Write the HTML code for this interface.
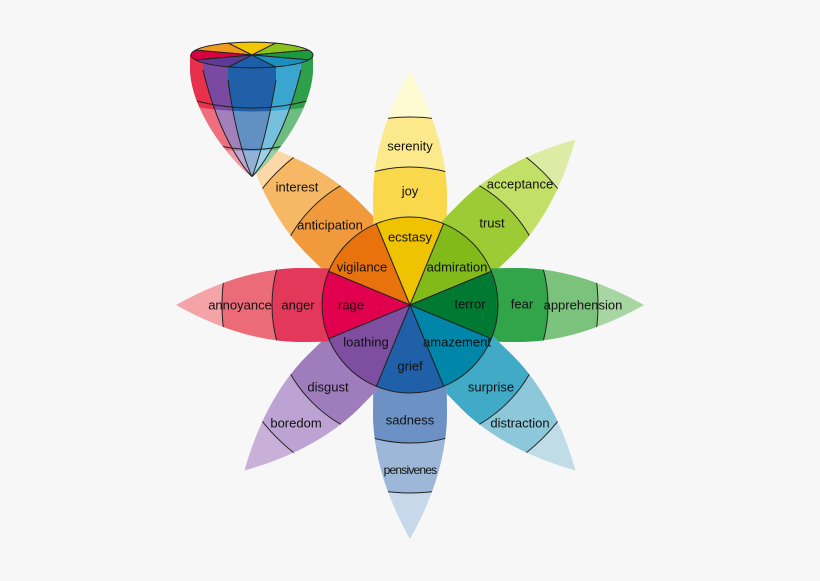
<!DOCTYPE html>
<html><head><meta charset="utf-8"><style>
html,body{margin:0;padding:0;background:#f7f7f7;width:820px;height:581px;overflow:hidden}
svg{display:block}
text{font-family:"Liberation Sans",sans-serif;font-size:13px;fill:#111;text-anchor:middle;dominant-baseline:central}
</style></head><body>
<svg width="820" height="581" viewBox="0 0 820 581" xmlns="http://www.w3.org/2000/svg">
<defs>
<clipPath id="pc" clipPathUnits="userSpaceOnUse"><path d="M40,-36 L110,-37 Q170,-36 234,0 Q170,36 110,37 L40,36 Z"/></clipPath>
<clipPath id="cone"><path d="M190,55 L313,55 L313,68 C313,110 274,160 252,177 C230,160 190,110 190,68 Z"/></clipPath>
</defs>
<rect width="820" height="581" fill="#f7f7f7"/>

<g transform="translate(410,305)">
 <g transform="rotate(-135)"><g clip-path="url(#pc)"><rect x="0" y="-50" width="260" height="100" fill="#fbd8a6"/><circle r="188" fill="#f7b865"/><circle r="138" fill="#f19a3c"/><circle r="138" fill="none" stroke="#222"/><circle r="188" fill="none" stroke="#222"/></g></g>
 <g transform="rotate(-90)"><g clip-path="url(#pc)"><rect x="0" y="-50" width="260" height="100" fill="#fefbd2"/><circle r="188" fill="#fbe98c"/><circle r="138" fill="#f9d84c"/><circle r="138" fill="none" stroke="#222"/><circle r="188" fill="none" stroke="#222"/></g></g>
 <g transform="rotate(-45)"><g clip-path="url(#pc)"><rect x="0" y="-50" width="260" height="100" fill="#dcecA4"/><circle r="188" fill="#c3e066"/><circle r="138" fill="#9dcb36"/><circle r="138" fill="none" stroke="#222"/><circle r="188" fill="none" stroke="#222"/></g></g>
 <g transform="rotate(0)"><g clip-path="url(#pc)"><rect x="0" y="-50" width="260" height="100" fill="#a8d6a2"/><circle r="188" fill="#7bc27c"/><circle r="138" fill="#32a54a"/><circle r="138" fill="none" stroke="#222"/><circle r="188" fill="none" stroke="#222"/></g></g>
 <g transform="rotate(45)"><g clip-path="url(#pc)"><rect x="0" y="-50" width="260" height="100" fill="#bfdce7"/><circle r="188" fill="#8cc7da"/><circle r="138" fill="#41aac6"/><circle r="138" fill="none" stroke="#222"/><circle r="188" fill="none" stroke="#222"/></g></g>
 <g transform="rotate(90)"><g clip-path="url(#pc)"><rect x="0" y="-50" width="260" height="100" fill="#c6d8ea"/><circle r="188" fill="#9db7d9"/><circle r="138" fill="#6c92c5"/><circle r="138" fill="none" stroke="#222"/><circle r="188" fill="none" stroke="#222"/></g></g>
 <g transform="rotate(135)"><g clip-path="url(#pc)"><rect x="0" y="-50" width="260" height="100" fill="#c9b0d9"/><circle r="188" fill="#bca3d3"/><circle r="138" fill="#9f7dbd"/><circle r="138" fill="none" stroke="#222"/><circle r="188" fill="none" stroke="#222"/></g></g>
 <g transform="rotate(180)"><g clip-path="url(#pc)"><rect x="0" y="-50" width="260" height="100" fill="#f4a4a7"/><circle r="188" fill="#ec6b78"/><circle r="138" fill="#e3385a"/><circle r="138" fill="none" stroke="#222"/><circle r="188" fill="none" stroke="#222"/></g></g>

 <g stroke="#222" stroke-width="1">
  <path transform="rotate(-135)" d="M0,0 L81.3,-33.7 A88,88 0 0 1 81.3,33.7 Z" fill="#e8730c"/>
  <path transform="rotate(-90)" d="M0,0 L81.3,-33.7 A88,88 0 0 1 81.3,33.7 Z" fill="#f0c300"/>
  <path transform="rotate(-45)" d="M0,0 L81.3,-33.7 A88,88 0 0 1 81.3,33.7 Z" fill="#82ba1a"/>
  <path transform="rotate(0)" d="M0,0 L81.3,-33.7 A88,88 0 0 1 81.3,33.7 Z" fill="#007a33"/>
  <path transform="rotate(45)" d="M0,0 L81.3,-33.7 A88,88 0 0 1 81.3,33.7 Z" fill="#0086a9"/>
  <path transform="rotate(90)" d="M0,0 L81.3,-33.7 A88,88 0 0 1 81.3,33.7 Z" fill="#1f60a9"/>
  <path transform="rotate(135)" d="M0,0 L81.3,-33.7 A88,88 0 0 1 81.3,33.7 Z" fill="#7e4ea1"/>
  <path transform="rotate(180)" d="M0,0 L81.3,-33.7 A88,88 0 0 1 81.3,33.7 Z" fill="#e0004e"/>
 </g>
</g>

<!-- cone -->
<g clip-path="url(#cone)">
 <rect x="185" y="50" width="135" height="135" fill="#3aa6cf"/>
 <path d="M185,50 L203,50 L203,70 Q220,140 252,177 L185,177 Z" fill="#e8304a"/>
 <path d="M203,50 L228,50 L228,80 Q236,140 252,177 Q220,140 203,70 Z" fill="#7a4aa0"/>
 <path d="M228,50 L276,50 L276,80 Q266,140 252,177 Q236,140 228,80 Z" fill="#1f60a9"/>
 <path d="M301,50 L320,50 L320,177 L252,177 Q284,140 301,70 Z" fill="#2fa04a"/>
 <path d="M185,105 Q252,118 320,105 L320,185 L185,185 Z" fill="#fff" opacity="0.3"/>
 <path d="M185,147 Q252,155 320,147 L320,185 L185,185 Z" fill="#fff" opacity="0.3"/>
 <g fill="none" stroke="#222" stroke-width="1">
  <path d="M203,70 Q220,140 252,177"/><path d="M228,80 Q236,140 252,177"/>
  <path d="M276,80 Q266,140 252,177"/><path d="M301,70 Q284,140 252,177"/>
  <path d="M193,100 Q252,116 311,100"/><path d="M212,144 Q252,155 292,144"/>
 </g>
</g>
<g transform="translate(252,55) scale(1,0.21)">
  <path transform="rotate(-135)" d="M0,0 L56.4,-23.4 A61,61 0 0 1 56.4,23.4 Z" fill="#ef9a1f" stroke="#222" vector-effect="non-scaling-stroke"/>
  <path transform="rotate(-90)" d="M0,0 L56.4,-23.4 A61,61 0 0 1 56.4,23.4 Z" fill="#f2c600" stroke="#222" vector-effect="non-scaling-stroke"/>
  <path transform="rotate(-45)" d="M0,0 L56.4,-23.4 A61,61 0 0 1 56.4,23.4 Z" fill="#8cc21e" stroke="#222" vector-effect="non-scaling-stroke"/>
  <path transform="rotate(0)" d="M0,0 L56.4,-23.4 A61,61 0 0 1 56.4,23.4 Z" fill="#1e9a3e" stroke="#222" vector-effect="non-scaling-stroke"/>
  <path transform="rotate(45)" d="M0,0 L56.4,-23.4 A61,61 0 0 1 56.4,23.4 Z" fill="#1a8fc0" stroke="#222" vector-effect="non-scaling-stroke"/>
  <path transform="rotate(90)" d="M0,0 L56.4,-23.4 A61,61 0 0 1 56.4,23.4 Z" fill="#1c5ea8" stroke="#222" vector-effect="non-scaling-stroke"/>
  <path transform="rotate(135)" d="M0,0 L56.4,-23.4 A61,61 0 0 1 56.4,23.4 Z" fill="#5e3a96" stroke="#222" vector-effect="non-scaling-stroke"/>
  <path transform="rotate(180)" d="M0,0 L56.4,-23.4 A61,61 0 0 1 56.4,23.4 Z" fill="#d8003e" stroke="#222" vector-effect="non-scaling-stroke"/>
</g>

<text x="410" y="146">serenity</text>
<text x="410" y="191">joy</text>
<text x="410" y="237">ecstasy</text>
<text x="520" y="184">acceptance</text>
<text x="492" y="223">trust</text>
<text x="457" y="267">admiration</text>
<text x="470" y="304">terror</text>
<text x="522" y="304">fear</text>
<text x="583" y="305">apprehension</text>
<text x="457" y="342">amazement</text>
<text x="491" y="387">surprise</text>
<text x="520" y="423">distraction</text>
<text x="410" y="366">grief</text>
<text x="410" y="420">sadness</text>
<text x="410" y="470" style="font-size:12px;letter-spacing:-0.8px">pensivenes</text>
<text x="366" y="342">loathing</text>
<text x="328" y="387">disgust</text>
<text x="296" y="423">boredom</text>
<text x="351" y="305">rage</text>
<text x="298" y="305">anger</text>
<text x="240" y="305">annoyance</text>
<text x="362" y="267">vigilance</text>
<text x="330" y="225">anticipation</text>
<text x="297" y="187">interest</text>
</svg>
</body></html>
